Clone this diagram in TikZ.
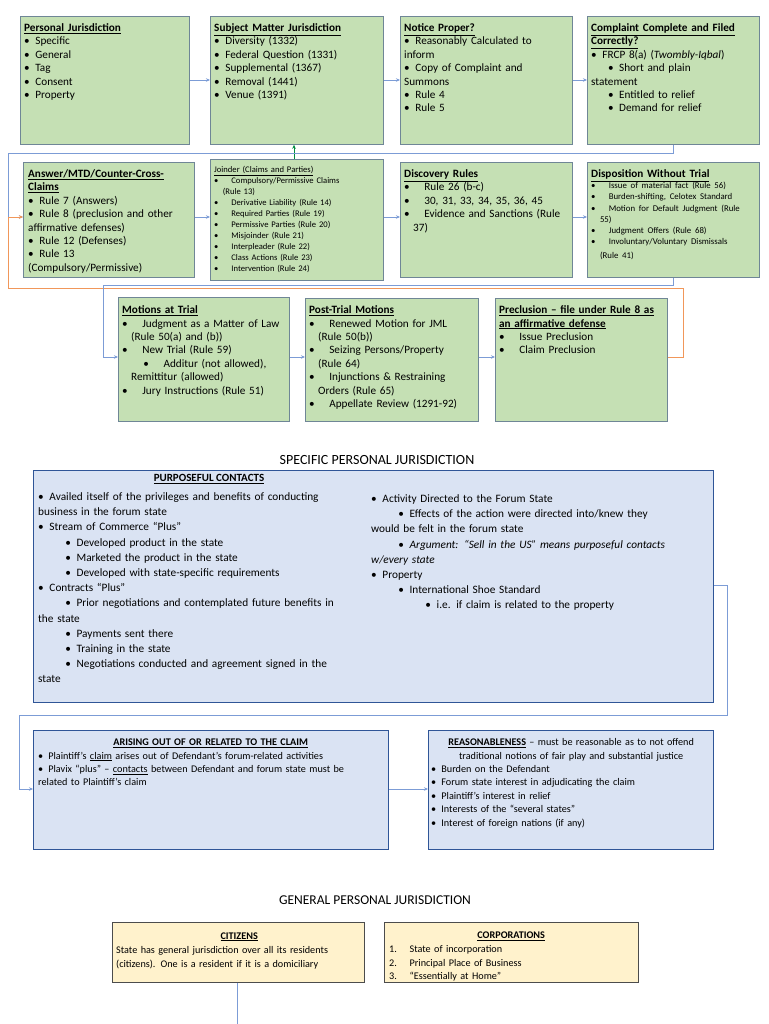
\documentclass[tikz,border=0pt]{standalone}
\usepackage{fontspec}
\setmainfont{Carlito}
\usetikzlibrary{arrows.meta}
\definecolor{gfill}{HTML}{C5E0B4}
\definecolor{gdraw}{HTML}{6F8696}
\definecolor{bfill}{HTML}{DAE3F3}
\definecolor{bdraw}{HTML}{2F5597}
\definecolor{yfill}{HTML}{FFF2CC}
\definecolor{bline}{HTML}{4472C4}
\definecolor{oline}{HTML}{ED7D31}
\definecolor{gline}{HTML}{00B050}
\newcommand\itm[2][0em]{\par\hangindent=\dimexpr#1+1em\relax\hangafter=1\noindent\hspace*{#1}\makebox[1em][l]{\textbullet}#2}
\newcommand\hd[1]{\par\noindent\textbf{\underline{#1}}}
\begin{document}
\begin{tikzpicture}[x=1pt,y=-1pt,
  gbox/.style={draw=gdraw,fill=gfill,line width=0.8pt,anchor=north west,inner sep=0pt},
  bbox/.style={draw=bdraw,fill=bfill,line width=0.8pt,anchor=north west,inner sep=0pt},
  ybox/.style={draw=black!70,fill=yfill,line width=0.6pt,anchor=north west,inner sep=0pt},
  txt/.style={anchor=north west,inner sep=0pt,align=left,font=\fontsize{11.2}{13.4}\selectfont},
  con/.style={draw=bline!70,line width=0.8pt,-{Stealth[length=4pt,width=3.5pt]}}]
\useasboundingbox (0,0) rectangle (768,1024);
% row 1
\node[gbox,minimum width=169,minimum height=128] (pj) at (20,16) {};
\node[gbox,minimum width=173,minimum height=128] (smj) at (210,16) {};
\node[gbox,minimum width=172,minimum height=128] (np) at (400,16) {};
\node[gbox,minimum width=172,minimum height=128] (cc) at (587,16) {};
\node[txt,text width=160] (pjt) at (24,18) {\hd{Personal Jurisdiction}\itm{Specific}\itm{General}\itm{Tag}\itm{Consent}\itm{Property}};
\node[txt,text width=165] (smjt) at (214,18) {\hd{Subject Matter Jurisdiction}\itm{Diversity (1332)}\itm{Federal Question (1331)}\itm{Supplemental (1367)}\itm{Removal (1441)}\itm{Venue (1391)}};
\node[txt,text width=160] (npt) at (404,18) {\hd{Notice Proper?}\itm{Reasonably Calculated to\\ inform}\itm{Copy of Complaint and\\ Summons}\itm{Rule 4}\itm{Rule 5}};
\node[txt,text width=165] (cct) at (591,18) {\hd{Complaint Complete and Filed}\hd{Correctly?}\itm{FRCP 8(a) (\textit{Twombly-Iqbal})}\itm[1.5em]{Short and plain\\ statement}\itm[1.5em]{Entitled to relief}\itm[1.5em]{Demand for relief}};
% row 2
\node[gbox,minimum width=171,minimum height=115] (ans) at (23,162) {};
\node[gbox,minimum width=173,minimum height=121] (jo) at (210,159) {};
\node[gbox,minimum width=172,minimum height=115] (dis) at (400,162) {};
\node[gbox,minimum width=172,minimum height=115] (dwt) at (587,162) {};
\node[txt,text width=160] (anst) at (28,164) {\hd{Answer/MTD/Counter-Cross-}\hd{Claims}\itm{Rule 7 (Answers)}\itm{Rule 8 (preclusion and other\\ affirmative defenses)}\itm{Rule 12 (Defenses)}\itm{Rule 13\\ (Compulsory/Permissive)}};
\node[txt,text width=165,font=\fontsize{8.6}{11}\selectfont] (jot) at (214,161) {\par\noindent\underline{Joinder (Claims and Parties)}\itm{\hspace{1em}Compulsory/Permissive Claims\\ \hspace*{1em}(Rule 13)}\itm{\hspace{1em}Derivative Liability (Rule 14)}\itm{\hspace{1em}Required Parties (Rule 19)}\itm{\hspace{1em}Permissive Parties (Rule 20)}\itm{\hspace{1em}Misjoinder (Rule 21)}\itm{\hspace{1em}Interpleader (Rule 22)}\itm{\hspace{1em}Class Actions (Rule 23)}\itm{\hspace{1em}Intervention (Rule 24)}};
\node[txt,text width=165] (dist) at (404,164) {\hd{Discovery Rules}\itm{\hspace{0.8em}Rule 26 (b-c)}\itm{\hspace{0.8em}30, 31, 33, 34, 35, 36, 45}\itm{\hspace{0.8em}Evidence and Sanctions (Rule\\ \hspace*{0.8em}37)}};
\node[txt,text width=170] (dwtt) at (591,164) {\hd{Disposition Without Trial}\par\fontsize{8.8}{11.2}\selectfont\itm{\hspace{1em}Issue of material fact (Rule 56)}\itm{\hspace{1em}Burden-shifting, Celotex Standard}\itm{\hspace{1em}Motion for Default Judgment (Rule\\ \hspace*{1em}55)}\itm{\hspace{1em}Judgment Offers (Rule 68)}\itm{\hspace{1em}Involuntary/Voluntary Dismissals\\ \hspace*{1em}(Rule 41)}};
% row 3
\node[gbox,minimum width=171,minimum height=124] (mt) at (118,297) {};
\node[gbox,minimum width=173,minimum height=123] (ptm) at (305,298) {};
\node[gbox,minimum width=172,minimum height=123] (pre) at (495,298) {};
\node[txt,text width=165] (mtt) at (122,300) {\hd{Motions at Trial}\itm{\hspace{0.8em}Judgment as a Matter of Law\\ \hspace*{0.8em}(Rule 50(a) and (b))}\itm{\hspace{0.8em}New Trial (Rule 59)}\itm[1.9em]{\hspace{0.8em}Additur (not allowed),\\ \hspace*{0.8em}Remittitur (allowed)}\itm{\hspace{0.8em}Jury Instructions (Rule 51)}};
\node[txt,text width=165] (ptmt) at (309,300) {\hd{Post-Trial Motions}\itm{\hspace{0.8em}Renewed Motion for JML\\ \hspace*{0.8em}(Rule 50(b))}\itm{\hspace{0.8em}Seizing Persons/Property\\ \hspace*{0.8em}(Rule 64)}\itm{\hspace{0.8em}Injunctions \& Restraining\\ \hspace*{0.8em}Orders (Rule 65)}\itm{\hspace{0.8em}Appellate Review (1291-92)}};
\node[txt,text width=165] (pret) at (499,300) {\hd{Preclusion -- file under Rule 8 as}\hd{an affirmative defense}\itm{\hspace{0.8em}Issue Preclusion}\itm{\hspace{0.8em}Claim Preclusion}};
% connectors top
\draw[con] (pj.east |- 0,80) -- (smj.west |- 0,80);
\draw[con] (smj.east |- 0,80) -- (np.west |- 0,80);
\draw[con] (np.east |- 0,80) -- (cc.west |- 0,80);
\draw[con] (ans.east |- 0,217) -- (jo.west |- 0,217);
\draw[con] (jo.east |- 0,217) -- (dis.west |- 0,217);
\draw[con] (dis.east |- 0,217) -- (dwt.west |- 0,217);
\draw[con,draw=gline!80!black] (jo.north -| 294,0) -- (smj.south -| 294,0);
\draw[con] (cc.south -| 673,0) -- (673,153) -- (8,153) -- (8,217) -- (ans.west |- 0,217);
\draw[con,draw=oline!80] (pre.east |- 0,357) -- (683,357) -- (683,288) -- (8,288) -- (8,217) -- (ans.west |- 0,217);
\draw[con] (dwt.south -| 673,0) -- (673,285) -- (103,285) -- (103,357) -- (mt.west |- 0,357);
\draw[con] (mt.east |- 0,357) -- (ptm.west |- 0,357);
\draw[con] (ptm.east |- 0,357) -- (pre.west |- 0,357);
% specific PJ
\node[inner sep=0pt,font=\fontsize{14}{16}\selectfont] (t1) at (377,460) {SPECIFIC PERSONAL JURISDICTION};
\node[bbox,minimum width=680,minimum height=232] (pc) at (33,470) {};
\node[inner sep=0pt,font=\fontsize{11}{12}\selectfont\bfseries] (pch) at (209,479) {\underline{PURPOSEFUL CONTACTS}};
\node[txt,text width=322,font=\fontsize{11.3}{15.2}\selectfont] (pcl) at (38,485) {\raggedright\itm{Availed itself of the privileges and benefits of conducting\\ business in the forum state}\itm{Stream of Commerce “Plus”}\itm[2.4em]{Developed product in the state}\itm[2.4em]{Marketed the product in the state}\itm[2.4em]{Developed with state-specific requirements}\itm{Contracts “Plus”}\itm[2.4em]{Prior negotiations and contemplated future benefits in\\ the state}\itm[2.4em]{Payments sent there}\itm[2.4em]{Training in the state}\itm[2.4em]{Negotiations conducted and agreement signed in the\\ state}};
\node[txt,text width=335,font=\fontsize{11.3}{15.2}\selectfont] (pcr) at (371,487) {\raggedright\itm{Activity Directed to the Forum State}\itm[2.4em]{Effects of the action were directed into/knew they\\ would be felt in the forum state}\itm[2.4em]{\textit{Argument: “Sell in the US” means purposeful contacts\\ w/every state}}\itm{Property}\itm[2.4em]{International Shoe Standard}\itm[4.8em]{i.e. if claim is related to the property}};
\node[bbox,minimum width=355,minimum height=119] (ar) at (33,730) {};
\node[bbox,minimum width=285,minimum height=119] (re) at (428,730) {};
\node[txt,text width=345,font=\fontsize{10.2}{13.4}\selectfont] (art) at (38,732) {\par\centering\textbf{\underline{ARISING OUT OF OR RELATED TO THE CLAIM}}\par\raggedright\itm{Plaintiff’s \underline{claim} arises out of Defendant’s forum-related activities}\itm{Plavix “plus” -- \underline{contacts} between Defendant and forum state must be\\ related to Plaintiff’s claim}};
\node[txt,text width=280,font=\fontsize{10.2}{13.4}\selectfont] (ret) at (431,732) {\par\centering\textbf{\underline{REASONABLENESS}} -- must be reasonable as to not offend\\ traditional notions of fair play and substantial justice\par\raggedright\itm{Burden on the Defendant}\itm{Forum state interest in adjudicating the claim}\itm{Plaintiff’s interest in relief}\itm{Interests of the “several states”}\itm{Interest of foreign nations (if any)}};
\draw[con] (pc.east |- 0,585) -- (727,585) -- (727,715) -- (19,715) -- (19,789) -- (ar.west |- 0,789);
\draw[con] (ar.east |- 0,789) -- (re.west |- 0,789);
% general PJ
\node[inner sep=0pt,font=\fontsize{13.5}{16}\selectfont] (t2) at (375,900) {GENERAL PERSONAL JURISDICTION};
\node[ybox,minimum width=252,minimum height=60] (ci) at (112,922) {};
\node[ybox,minimum width=254,minimum height=60] (co) at (384,922) {};
\node[txt,text width=246,font=\fontsize{10.2}{14}\selectfont] (cit) at (116,925) {\par\centering\textbf{\underline{CITIZENS}}\par\raggedright\noindent State has general jurisdiction over all its residents\\ (citizens). One is a resident if it is a domiciliary};
\node[txt,text width=244,font=\fontsize{10.2}{13.6}\selectfont] (cot) at (389,925) {\par\centering\textbf{\underline{CORPORATIONS}}\par\raggedright\noindent\makebox[2em][l]{1.}State of incorporation\par\noindent\makebox[2em][l]{2.}Principal Place of Business\par\noindent\makebox[2em][l]{3.}“Essentially at Home”};
\coordinate (bot) at (237,1024);
\draw[draw=bline!70,line width=0.8pt] (ci.south -| bot) -- (bot);
\end{tikzpicture}
\end{document}
